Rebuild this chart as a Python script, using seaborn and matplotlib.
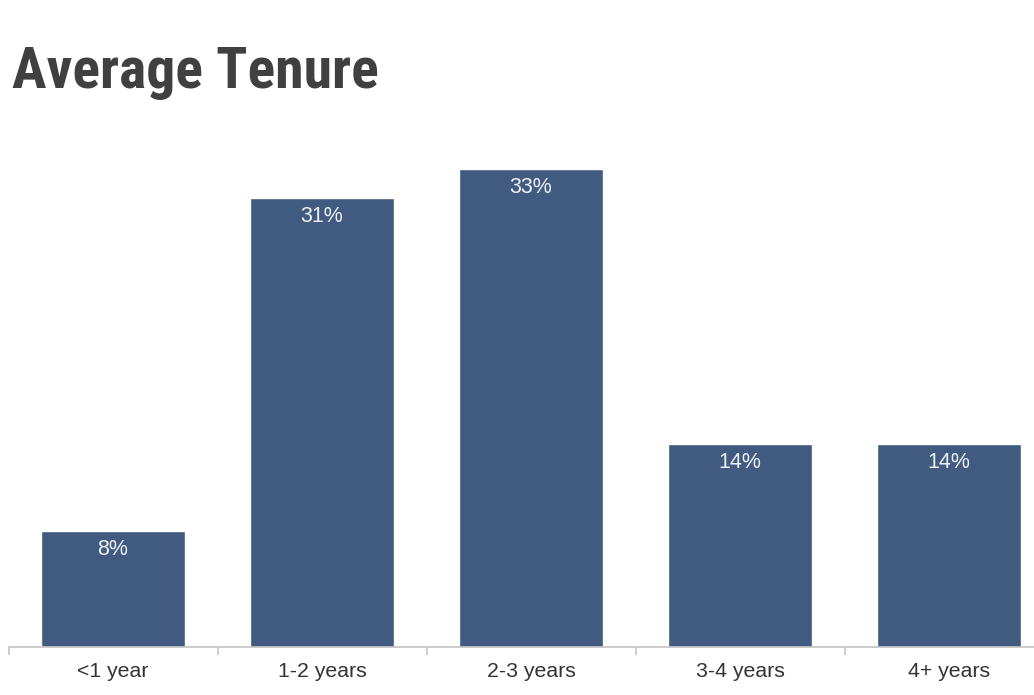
import pandas as pd
import matplotlib
matplotlib.use('Agg')
import matplotlib.pyplot as plt
import seaborn as sns

# Datos
categories = ['<1 year', '1-2 years', '2-3 years', '3-4 years', '4+ years']
values = [8, 31, 33, 14, 14]

df = pd.DataFrame({'tenure': categories, 'pct': values})

sns.set_theme(style='white')
plt.rcParams['font.family'] = ['Liberation Sans', 'DejaVu Sans']

fig = plt.figure(figsize=(10.34, 6.95), dpi=100)
ax = fig.add_axes([8.5 / 1034, 48 / 695, 1045 / 1034, 507.5 / 695])

bar_color = '#405a80'
sns.barplot(data=df, x='tenure', y='pct', color=bar_color, saturation=1,
            width=0.69, ax=ax)

ax.set_xlim(-0.5, 4.5)
ax.set_ylim(0, 35)

# Etiquetas dentro de las barras
for i, v in enumerate(values):
    ax.text(i, v - 1.3, f'{v}%', ha='center', va='center',
            color='#eef1f5', fontsize=15.5)

# Ejes
for s in ['top', 'right', 'left']:
    ax.spines[s].set_visible(False)
ax.spines['bottom'].set_color('#c4c4c4')
ax.spines['bottom'].set_linewidth(1.2)
ax.set_yticks([])
ax.set_xlabel('')
ax.set_ylabel('')
ax.set_xticks(range(len(categories)))
ax.set_xticklabels(categories, fontsize=15.3, color='#333333')
ax.tick_params(axis='x', which='major', length=0, pad=11)
ax.set_xticks([i - 0.5 for i in range(len(categories) + 1)], minor=True)
ax.tick_params(axis='x', which='minor', length=6, color='#c4c4c4', width=1.2,
               direction='out', bottom=True)

# Titulo
fig.text(12 / 1034, 1 - 88 / 695, 'Average Tenure', ha='left', va='baseline',
         fontsize=41.5, fontweight='bold', color='#404040',
         family=['Roboto Condensed', 'Roboto', 'Liberation Sans', 'DejaVu Sans'])

fig.savefig('out.png', dpi=100)
plt.close(fig)
